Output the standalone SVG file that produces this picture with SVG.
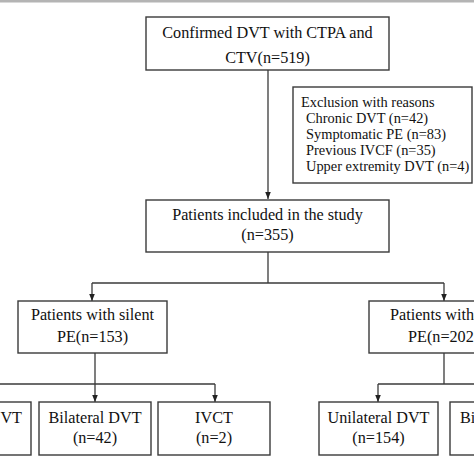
<svg xmlns="http://www.w3.org/2000/svg" width="474" height="474" viewBox="0 0 474 474">
  <style>
    .box { fill: #ffffff; stroke: #3a3a3a; stroke-width: 1.4; }
    .t { font-family: "Liberation Serif", "Times New Roman", serif; font-size: 16.2px; fill: #111111; }
    .c { text-anchor: middle; }
    .s { font-size: 14.4px; }
    .link { fill: none; stroke: #3a3a3a; stroke-width: 1.3; }
  </style>
  <defs>
    <marker id="arrow" markerWidth="8" markerHeight="8" refX="7" refY="4" orient="auto" markerUnits="userSpaceOnUse">
      <path d="M0,1.2 L7,4 L0,6.8 Z" fill="#222222"/>
    </marker>
  </defs>

  <rect width="474" height="474" fill="#ffffff"/>
  <!-- top rule -->
  <rect x="0" y="0" width="474" height="2.5" fill="#b4b4b4"/>

  <g id="connectors">
    <path class="link" d="M268,70 V199" marker-end="url(#arrow)"/>
    <path class="link" d="M268,252 V283"/>
    <path class="link" d="M92,283 H444"/>
    <path class="link" d="M92,283 V301" marker-end="url(#arrow)"/>
    <path class="link" d="M444,283 V301" marker-end="url(#arrow)"/>
    <path class="link" d="M95,353 V402" marker-end="url(#arrow)"/>
    <path class="link" d="M-5,384 H215"/>
    <path class="link" d="M215,384 V402" marker-end="url(#arrow)"/>
    <path class="link" d="M444,353 V384"/>
    <path class="link" d="M378,384 H480"/>
    <path class="link" d="M378,384 V402" marker-end="url(#arrow)"/>
  </g>

  <g id="confirmed">
    <rect class="box" x="146" y="17" width="243" height="53"/>
    <text class="t c" x="267.5" y="38">Confirmed DVT with CTPA and</text>
    <text class="t c" x="267.5" y="63">CTV(n=519)</text>
  </g>

  <g id="exclusion">
    <rect class="box" x="293" y="87" width="179" height="96"/>
    <text class="t s" x="301" y="107">Exclusion with reasons</text>
    <text class="t s" x="306" y="123">Chronic DVT (n=42)</text>
    <text class="t s" x="306" y="139">Symptomatic PE (n=83)</text>
    <text class="t s" x="306" y="155">Previous IVCF (n=35)</text>
    <text class="t s" x="306" y="171">Upper extremity DVT (n=4)</text>
  </g>

  <g id="included">
    <rect class="box" x="146" y="200" width="243" height="52"/>
    <text class="t c" x="267.5" y="220">Patients included in the study</text>
    <text class="t c" x="267.5" y="240">(n=355)</text>
  </g>

  <g id="silent">
    <rect class="box" x="18" y="301" width="149" height="52"/>
    <text class="t c" x="92.5" y="320">Patients with silent</text>
    <text class="t c" x="92.5" y="342">PE(n=153)</text>
  </g>

  <g id="with-pe">
    <rect class="box" x="369" y="301" width="149" height="52"/>
    <text class="t" x="390" y="320">Patients with</text>
    <text class="t" x="408" y="342">PE(n=202</text>
  </g>

  <g id="silent-unilateral">
    <rect class="box" x="-82" y="402" width="113" height="53"/>
    <text class="t" x="22" y="423" text-anchor="end">VT</text>
  </g>

  <g id="silent-bilateral">
    <rect class="box" x="39" y="402" width="112" height="53"/>
    <text class="t c" x="95" y="423">Bilateral DVT</text>
    <text class="t c" x="95" y="443">(n=42)</text>
  </g>

  <g id="silent-ivct">
    <rect class="box" x="158" y="402" width="112" height="53"/>
    <text class="t c" x="214" y="423">IVCT</text>
    <text class="t c" x="214" y="443">(n=2)</text>
  </g>

  <g id="pe-unilateral">
    <rect class="box" x="319" y="402" width="119" height="53"/>
    <text class="t c" x="378.5" y="423">Unilateral DVT</text>
    <text class="t c" x="378.5" y="443">(n=154)</text>
  </g>

  <g id="pe-bilateral">
    <rect class="box" x="450" y="402" width="112" height="53"/>
    <text class="t" x="460" y="423">Bi</text>
  </g>
</svg>
